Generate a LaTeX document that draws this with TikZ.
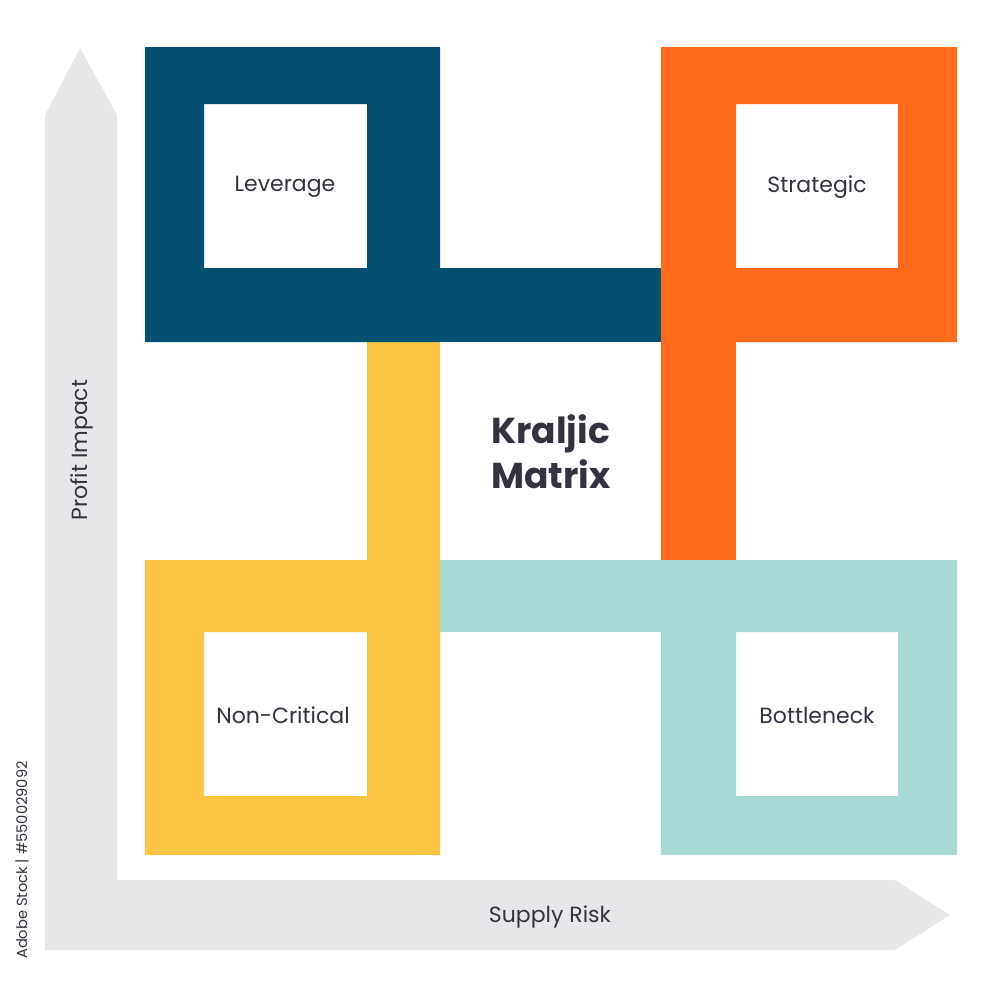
\documentclass[tikz,border=0pt]{standalone}
\usepackage{fontspec}
\setmainfont{Poppins}
\definecolor{cblue}{HTML}{045070}
\definecolor{corange}{HTML}{FF6B1A}
\definecolor{cyellow}{HTML}{FDC543}
\definecolor{cteal}{HTML}{A8DAD5}
\definecolor{cgrey}{HTML}{E6E7E9}
\definecolor{ctext}{HTML}{33333F}
\begin{document}
\begin{tikzpicture}[x=0.75pt,y=-0.75pt,
  lbl/.style={font=\fontsize{16.5}{20}\selectfont, text=ctext},
  frame/.style={even odd rule}]
\useasboundingbox (0,0) rectangle (1000,1000);
\fill[white] (0,0) rectangle (1000,1000);
% axes
\fill[cgrey] (45,950) -- (45,115) -- (80,48) -- (117,115) -- (117,880) -- (895,880) -- (950,915) -- (895,950) -- cycle;
\node[lbl, rotate=90] (py) at (82,450) {Profit Impact};
\node[lbl] (sx) at (550,917) {Supply Risk};
\node[rotate=90, font=\fontsize{11}{12}\selectfont, text=ctext] (wm) at (22,860) {Adobe Stock | \#550029092};
% teal
\fill[cteal, frame] (661,560) rectangle (957,855) (736,632) rectangle (898,796);
\fill[cteal] (440,560) rectangle (661,632);
% yellow
\fill[cyellow, frame] (145,560) rectangle (440,855) (204,632) rectangle (367,796);
\fill[cyellow] (367,342) rectangle (440,560);
% blue
\fill[cblue, frame] (145,47) rectangle (440,342) (204,104) rectangle (367,268);
\fill[cblue] (440,268) rectangle (661,342);
% orange
\fill[corange, frame] (661,47) rectangle (957,342) (736,104) rectangle (898,268);
\fill[corange] (661,342) rectangle (736,560);
% teal over orange
\fill[cteal] (661,560) rectangle (736,632);
% labels
\node[lbl] (lev) at (285,187) {Leverage};
\node[lbl] (str) at (817,187) {Strategic};
\node[lbl] (non) at (283,715) {Non-Critical};
\node[lbl] (bot) at (817,715) {Bottleneck};
\node[font=\fontsize{27}{34}\selectfont\bfseries, text=ctext, align=left] (k) at (551,452) {Kraljic\\Matrix};
\end{tikzpicture}
\end{document}
